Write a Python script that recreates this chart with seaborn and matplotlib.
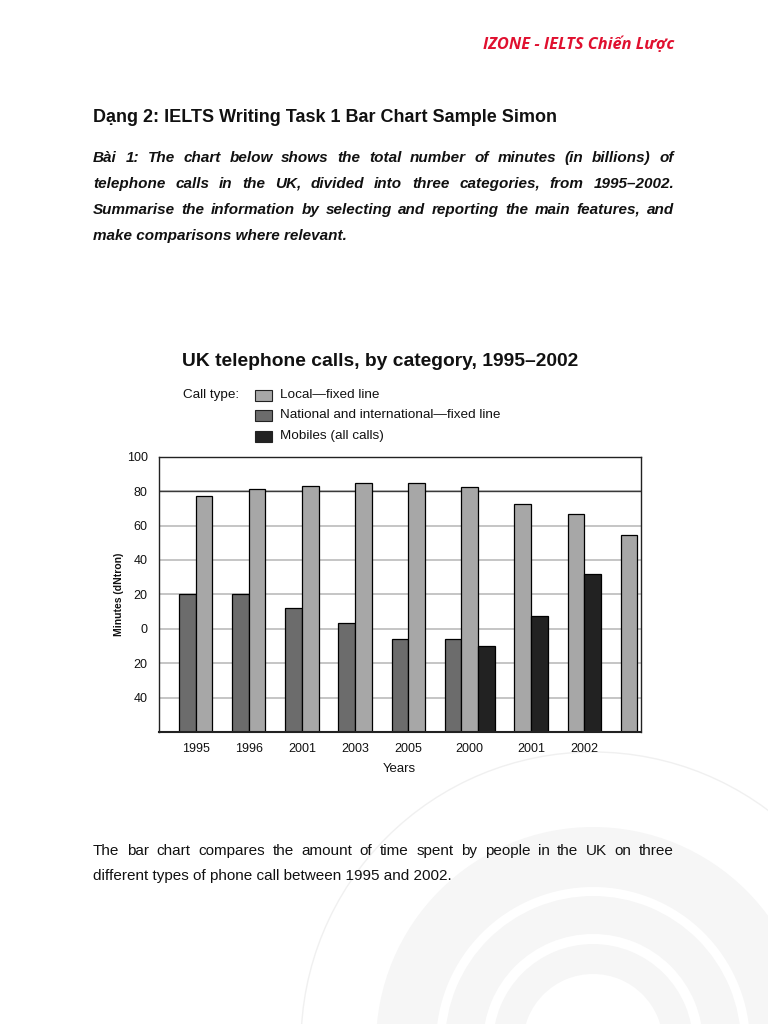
import numpy as np
import pandas as pd
import matplotlib
import matplotlib.pyplot as plt
from matplotlib.patches import Wedge, Circle, Rectangle
from matplotlib.transforms import IdentityTransform
from matplotlib.ticker import FuncFormatter, FixedLocator
import seaborn as sns

# -------------------- Data --------------------
year_labels = ["1995", "1996", "2001", "2003", "2005", "2000", "2001", "2002", ""]
local = [77, 81.5, 83, 85, 85, 82.5, 72.5, 66.5, 54.5]
national = [20, 20, 12, 3.5, -6, -6, np.nan, np.nan, np.nan]
mobiles = [np.nan, np.nan, np.nan, np.nan, np.nan, -10, 7.5, 32, np.nan]

series_order = ["National and international\u2014fixed line", "Local\u2014fixed line", "Mobiles (all calls)"]
legend_order = ["Local\u2014fixed line", "National and international\u2014fixed line", "Mobiles (all calls)"]
colors = {"Local\u2014fixed line": "#a7a7a7",
          "National and international\u2014fixed line": "#6c6c6c",
          "Mobiles (all calls)": "#222222"}

y_base = -60          # bars rise from the bottom of the frame
y_top = 100
y_ticks = [-40, -20, 0, 20, 40, 60, 80, 100]

# -------------------- Page --------------------
W, H = 768, 1024
sns.set_theme(style="white")
plt.rcParams["font.family"] = ["Liberation Sans", "DejaVu Sans"]
fig = plt.figure(figsize=(W / 100, H / 100), dpi=100)
fig.patch.set_facecolor("white")


def fx(x):
    return x / W


def fy(y):
    return 1 - y / H


# faint watermark rings, bottom right
cx, cy = 593, H - 1044
for r_out, width in [(217, 60), (148, 38), (100, 30)]:
    fig.patches.append(Wedge((cx, cy), r_out, 0, 360, width=width, facecolor="#f6f6f6",
                             edgecolor="none", transform=IdentityTransform(), zorder=-5))
fig.patches.append(Circle((cx, cy), 292, fill=False, edgecolor="#f0f0f0", lw=1.0,
                          transform=IdentityTransform(), zorder=-5))

# header and question text
fig.text(fx(674), fy(45), "IZONE - IELTS Chi\u1ebfn L\u01b0\u1ee3c", ha="right", va="center",
         color="#e0102f", fontsize=11.8, fontweight="bold", fontstyle="italic",
         family=["Open Sans", "Liberation Sans", "DejaVu Sans"])
fig.text(fx(93), fy(122), "D\u1ea1ng 2: IELTS Writing Task 1 Bar Chart Sample Simon",
         ha="left", va="baseline", fontsize=13, fontweight="bold", color="#111111")

renderer = fig.canvas.get_renderer()


def justify(line, y, x0=93, x1=674, **kw):
    # whole-pixel baseline so every word rounds the same way
    words = line.split()
    texts = [fig.text(0, fy(y + 5), w, ha="left", va="baseline", family="Liberation Sans", **kw)
             for w in words]
    widths = [t.get_window_extent(renderer).width for t in texts]
    gap = (x1 - x0 - sum(widths)) / (len(words) - 1)
    x = x0
    for t, w in zip(texts, widths):
        t.set_x(fx(x))
        x += w + gap


def plain(line, y, x0=93, **kw):
    fig.text(fx(x0), fy(y + 5), line, ha="left", va="baseline", family="Liberation Sans", **kw)


q_style = dict(fontsize=11, fontweight="bold", fontstyle="italic", color="#111111")
justify("B\u00e0i 1: The chart below shows the total number of minutes (in billions) of", 157, **q_style)
justify("telephone calls in the UK, divided into three categories, from 1995\u20132002.", 183, **q_style)
justify("Summarise the information by selecting and reporting the main features, and", 209, **q_style)
plain("make comparisons where relevant.", 235, **q_style)

a_style = dict(fontsize=11, color="#111111")
justify("The bar chart compares the amount of time spent by people in the UK on three", 850, **a_style)
plain("different types of phone call between 1995 and 2002.", 875, **a_style)

# -------------------- Chart --------------------
ax = fig.add_axes([fx(158.7), fy(732), (640.7 - 158.7) / W, (732 - 456.7) / H])

rows = []
for i in range(len(year_labels)):
    for name, vals in [(series_order[0], national), (series_order[1], local), (series_order[2], mobiles)]:
        if not np.isnan(vals[i]):
            rows.append({"group": i, "type": name, "value": vals[i]})
df = pd.DataFrame(rows)
df["height"] = df["value"] - y_base

bar_width = 0.94
sns.barplot(data=df, x="group", y="height", hue="type", hue_order=series_order,
            order=list(range(len(year_labels))), palette=colors, width=bar_width,
            edgecolor="black", linewidth=0.9, errorbar=None, legend=False, ax=ax)

ax.set_xlim(-0.852, len(year_labels) - 1 + 0.22)
ax.set_ylim(0, y_top - y_base)

# tick under the middle of the bars present in each group
slot = bar_width / 3
tick_pos = []
for i in range(len(year_labels)):
    offs = [k - 1 for k, vals in enumerate([national, local, mobiles]) if not np.isnan(vals[i])]
    tick_pos.append(i + slot * np.mean(offs))
ax.xaxis.set_major_locator(FixedLocator(tick_pos))
ax.set_xticklabels(year_labels)

ax.yaxis.set_major_locator(FixedLocator([t - y_base for t in y_ticks]))
ax.yaxis.set_major_formatter(FuncFormatter(lambda v, p: f"{abs(v + y_base):.0f}"))

ax.set_axisbelow(True)
ax.yaxis.grid(True, color="#b5b5b5", lw=1.1)
ax.axhline(80 - y_base, color="#3a3a3a", lw=1.0, zorder=0.6)
ax.tick_params(axis="both", length=0, labelsize=9, colors="#111111")
ax.tick_params(axis="y", pad=8)
ax.tick_params(axis="x", pad=8)
for s in ax.spines.values():
    s.set_visible(True)
    s.set_color("#222222")
    s.set_linewidth(1.0)
ax.spines["bottom"].set_linewidth(1.5)

ax.set_xlabel("Years", fontsize=9.5, labelpad=6, color="#111111")
ax.set_ylabel("Minutes (dNtron)", fontsize=7.5, fontweight="bold", labelpad=2, color="#111111")

# title and legend block above the frame
fig.text(fx(380), fy(361), "UK telephone calls, by category, 1995\u20132002", ha="center",
         va="center", fontsize=13.9, fontweight="bold", color="#111111")
fig.text(fx(183), fy(395), "Call type:", ha="left", va="center", fontsize=9.7, color="#111111")
for k, name in enumerate(legend_order):
    yy = 395 + 20.5 * k
    fig.patches.append(Rectangle((fx(255), fy(yy + 5.5)), fx(17), 11 / H, facecolor=colors[name],
                                 edgecolor="#222222", lw=0.8, transform=fig.transFigure))
    fig.text(fx(280), fy(yy), name, ha="left", va="center", fontsize=9.7, color="#111111")

fig.savefig("out.png", dpi=100, facecolor="white")
